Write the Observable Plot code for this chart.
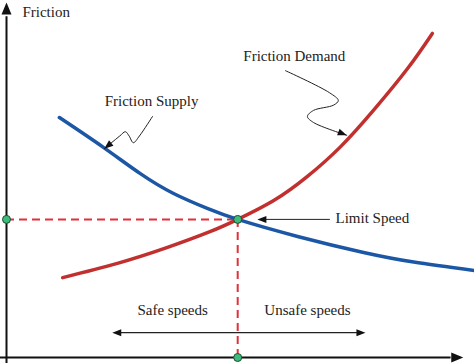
<!DOCTYPE html>
<html>
<head>
<meta charset="utf-8">
<script src="https://cdn.jsdelivr.net/npm/d3@7"></script>
<script src="https://cdn.jsdelivr.net/npm/@observablehq/plot@0.6"></script>
<style>
  html, body { margin: 0; padding: 0; background: #fff; font-family: 'Liberation Serif', serif; }
  #chart { width: 474px; height: 363px; }
  #chart svg text { font-family: 'Liberation Serif', 'DejaVu Serif', serif !important; }
</style>
</head>
<body>
<div id="chart"></div>
<script>
// Conceptual units: speed (x) and friction (y), both 0–100
const supplySpeed    = [11.3, 20.7, 28.6, 35.7, 42.9, 49.4, 62.2, 76.3, 87.0, 100];
const supplyFriction = [67.6, 59.2, 51.8, 46.2, 42.0, 38.9, 34.1, 29.6, 26.9, 24.5];
const demandSpeed    = [12.0, 23.7, 34.4, 43.6, 49.4, 57.1, 64.3, 71.4, 78.4, 85.7, 91.0];
const demandFriction = [22.5, 26.5, 31.0, 35.5, 38.9, 44.2, 51.0, 59.4, 69.6, 81.4, 91.3];
const limitSpeed = 49.4;
const limitFriction = 38.9;

// Annotation leader paths (in chart units)
const supplyLeaderX = [31.2, 28.4, 27.1, 26.2, 25.4, 24.2, 20.9];
const supplyLeaderY = [67.9, 62.4, 60.5, 62.4, 63.6, 62.4, 58.8];
const demandLeaderX = [59.6, 69.0, 70.9, 69.9, 65.6, 64.3, 65.6, 72.7];
const demandLeaderY = [80.8, 74.6, 72.4, 71.1, 69.6, 67.9, 66.2, 62.6];
const limitLeaderX = [69.2, 53.6];
const zoneArrowX = [22.6, 76.7];
const zoneArrowY = 7.0;

const labels = [
  {text: "Friction", x: 3.4, y: 97.2, anchor: "start"},
  {text: "Friction Supply", x: 31.0, y: 72.1, anchor: "middle"},
  {text: "Friction Demand", x: 61.5, y: 84.8, anchor: "middle"},
  {text: "Limit Speed", x: 70.3, y: 39.2, anchor: "start"},
  {text: "Safe speeds", x: 35.5, y: 13.2, anchor: "middle"},
  {text: "Unsafe speeds", x: 64.3, y: 13.2, anchor: "middle"}
];

const supply = supplySpeed.map((x, i) => ({x, y: supplyFriction[i]}));
const demand = demandSpeed.map((x, i) => ({x, y: demandFriction[i]}));
const supplyLeader = supplyLeaderX.map((x, i) => ({x, y: supplyLeaderY[i]}));
const demandLeader = demandLeaderX.map((x, i) => ({x, y: demandLeaderY[i]}));

const W = 474, H = 363;
const mL = 6, mR = 0, mT = 2, mB = 6;
const kx = (W - mL - mR) / 100, ky = (H - mT - mB) / 100;
// screen-angle (deg, clockwise) of the last segment of a path
function headAngle(p) {
  const a = p[p.length - 2], b = p[p.length - 1];
  return Math.atan2(-(b.y - a.y) * ky, (b.x - a.x) * kx) * 180 / Math.PI;
}
const head = (len, wid) => ({
  draw(ctx) { ctx.moveTo(0, 0); ctx.lineTo(-len, -wid / 2); ctx.lineTo(-len, wid / 2); ctx.closePath(); }
});
const bigHead = head(12, 10);
const smallHead = head(9, 7);

const blue = "#1c57a5", red = "#c1302e", dash = "#e0303a";
const serif = "'Liberation Serif', 'DejaVu Serif', serif";

const chart = Plot.plot({
  width: W, height: H,
  marginLeft: mL, marginRight: mR, marginTop: mT, marginBottom: mB,
  x: {domain: [0, 100], axis: null},
  y: {domain: [0, 100], axis: null},
  style: {background: "#fff", fontFamily: serif},
  marks: [
    // dashed guides
    Plot.ruleY([limitFriction], {x1: 0, x2: limitSpeed, stroke: dash, strokeWidth: 2, strokeDasharray: "8,5"}),
    Plot.ruleX([limitSpeed], {y1: 0, y2: limitFriction, stroke: dash, strokeWidth: 2, strokeDasharray: "8,5"}),
    // curves
    Plot.line(supply, {x: "x", y: "y", stroke: blue, strokeWidth: 3.5, curve: "natural"}),
    Plot.line(demand, {x: "x", y: "y", stroke: red, strokeWidth: 3.5, curve: "natural"}),
    // axes
    Plot.ruleX([0], {y1: -2, y2: 96, stroke: "#111", strokeWidth: 2}),
    Plot.ruleY([0], {x1: -1.5, x2: 95, stroke: "#111", strokeWidth: 2}),
    Plot.dot([{x: 0, y: 100}], {x: "x", y: "y", symbol: bigHead, rotate: -90, fill: "#111", stroke: "none", r: 5}),
    Plot.dot([{x: 97.6, y: 0}], {x: "x", y: "y", symbol: bigHead, rotate: 0, fill: "#111", stroke: "none", r: 5}),
    // leaders
    Plot.line(supplyLeader, {x: "x", y: "y", stroke: "#222", strokeWidth: 1, curve: "catmull-rom"}),
    Plot.dot([supplyLeader[supplyLeader.length - 1]], {x: "x", y: "y", symbol: smallHead, rotate: headAngle(supplyLeader), fill: "#111", stroke: "none"}),
    Plot.line(demandLeader, {x: "x", y: "y", stroke: "#222", strokeWidth: 1, curve: "catmull-rom"}),
    Plot.dot([demandLeader[demandLeader.length - 1]], {x: "x", y: "y", symbol: smallHead, rotate: headAngle(demandLeader), fill: "#111", stroke: "none"}),
    Plot.ruleY([limitFriction], {x1: limitLeaderX[0], x2: limitLeaderX[1] + 1.5, stroke: "#222", strokeWidth: 1}),
    Plot.dot([{x: limitLeaderX[1], y: limitFriction}], {x: "x", y: "y", symbol: smallHead, rotate: 180, fill: "#111", stroke: "none"}),
    // safe / unsafe double arrow
    Plot.ruleY([zoneArrowY], {x1: zoneArrowX[0] + 1.5, x2: zoneArrowX[1] - 1.5, stroke: "#222", strokeWidth: 1.2}),
    Plot.dot([{x: zoneArrowX[0], y: zoneArrowY}], {x: "x", y: "y", symbol: smallHead, rotate: 180, fill: "#111", stroke: "none"}),
    Plot.dot([{x: zoneArrowX[1], y: zoneArrowY}], {x: "x", y: "y", symbol: smallHead, rotate: 0, fill: "#111", stroke: "none"}),
    // green markers
    Plot.dot([{x: limitSpeed, y: limitFriction}, {x: 0, y: limitFriction}, {x: limitSpeed, y: 0}],
      {x: "x", y: "y", r: 4, fill: "#3dbb7a", stroke: "#1e4d35", strokeWidth: 1}),
    // labels
    Plot.text(labels.filter(d => d.anchor === "start"), {x: "x", y: "y", text: "text", textAnchor: "start", fontSize: 15, fontFamily: serif, fill: "#222"}),
    Plot.text(labels.filter(d => d.anchor === "middle"), {x: "x", y: "y", text: "text", textAnchor: "middle", fontSize: 15, fontFamily: serif, fill: "#222"})
  ]
});
document.getElementById("chart").appendChild(chart);
</script>
</body>
</html>
